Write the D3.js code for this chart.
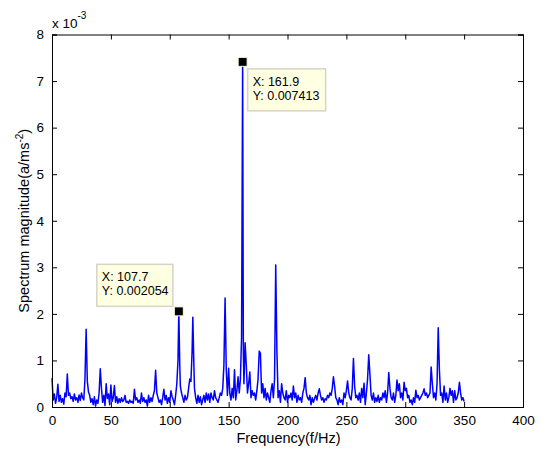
<!DOCTYPE html>
<html><head><meta charset="utf-8">
<script src="https://cdn.jsdelivr.net/npm/d3@7"></script>
<style>body{margin:0;background:#fff}svg{display:block}text{font-family:Arial,"Liberation Sans",sans-serif}</style>
</head><body><svg id="c" width="550" height="455"></svg>
<script>
// spectrum as [frequency Hz, magnitude x1e-3]
const spectrum = [
[0,0.62],[1,0.15],[2,0.28],[3,0.08],[4,0.2],[5,0.49],[6,0.12],[7,0.25],[8,0.1],[9,0.18],
[10,0.06],[11,0.3],[12,0.22],[13,0.71],[14,0.25],[15,0.3],[16,0.18],[17,0.22],[18,0.12],[19,0.28],
[20,0.15],[21,0.2],[22,0.1],[23,0.26],[24,0.14],[25,0.3],[26,0.2],[27,0.15],[28,0.6],[29,1.67],
[30,0.55],[31,0.32],[32,0.25],[33,0.1],[34,0.18],[35,0.05],[36,0.22],[37,0.02],[38,0.15],[39,0.08],
[40,0.3],[41,0.82],[42,0.4],[43,0.1],[44,0.25],[45,0.03],[46,0.5],[47,0.18],[48,0.28],[49,0.05],
[50,0.47],[51,0.12],[52,0.2],[53,0.46],[54,0.1],[55,0.22],[56,0.08],[57,0.18],[58,0.1],[59,0.2],
[60,0.12],[61,0.15],[62,0.25],[63,0.1],[64,0.12],[65,0.08],[66,0.15],[67,0.1],[68,0.12],[69,0.08],
[70,0.38],[71,0.15],[72,0.2],[73,0.1],[74,0.15],[75,0.08],[76,0.3],[77,0.12],[78,0.2],[79,0.1],
[80,0.15],[81,0.02],[82,0.25],[83,0.1],[84,0.2],[85,0.12],[86,0.25],[87,0.35],[88,0.79],[89,0.3],
[90,0.2],[91,0.1],[92,0.15],[93,0.05],[94,0.2],[95,0.38],[96,0.15],[97,0.25],[98,0.08],[99,0.2],
[100,0.1],[101,0.35],[102,0.22],[103,0.15],[104,0.05],[105,0.25],[106,0.5],[107,1.0],[107.7,2.054],[108.5,0.9],
[109,0.45],[110,0.3],[111,0.2],[112,0.1],[113,0.25],[114,0.15],[115,0.2],[116,0.4],[117,0.6],[118,0.55],
[119,1.2],[119.6,1.93],[120.5,0.9],[121,0.4],[122,0.2],[123,0.08],[124,0.25],[125,0.1],[126,0.22],[127,0.05],
[128,0.15],[129,0.25],[130,0.1],[131,0.3],[132,0.15],[133,0.28],[134,0.1],[135,0.3],[136,0.2],[137,0.15],
[138,0.35],[139,0.2],[140,0.15],[141,0.1],[142,0.2],[143,0.3],[144,0.25],[145,0.4],[146,0.9],[147,2.34],
[148,0.8],[149,0.25],[150,0.83],[151,0.3],[152,0.15],[153,0.4],[154,0.2],[155,0.8],[156,0.15],[157,0.35],
[158,0.65],[159,0.3],[160,0.6],[161,1.5],[161.9,7.413],[162.5,1.2],[163,0.5],[164,1.38],[165,0.9],[166,0.3],
[167,0.5],[168,0.75],[169,0.2],[170,0.35],[171,0.25],[172,0.3],[173,0.15],[174,0.35],[175,0.6],[176,1.2],
[177,1.15],[178,0.3],[179,0.5],[180,0.2],[181,0.4],[182,0.15],[183,0.3],[184,0.2],[185,0.1],[186,0.35],
[187,0.5],[188,0.2],[189,0.6],[190,3.05],[191,1.2],[192,0.2],[193,0.35],[194,0.1],[195,0.5],[196,0.3],
[197,0.2],[198,0.15],[199,0.35],[200,0.1],[201,0.25],[202,0.2],[203,0.3],[204,0.15],[205,0.45],[206,0.2],
[207,0.3],[208,0.1],[209,0.25],[210,0.15],[211,0.2],[212,0.1],[213,0.3],[214,0.4],[215,0.63],[216,0.3],
[217,0.2],[218,0.15],[219,0.25],[220,0.05],[221,0.2],[222,0.1],[223,0.18],[224,0.25],[225,0.15],[226,0.3],
[227,0.39],[228,0.25],[229,0.15],[230,0.2],[231,0.1],[232,0.18],[233,0.15],[234,0.25],[235,0.2],[236,0.3],
[237,0.25],[238,0.4],[239,0.65],[240,0.45],[241,0.2],[242,0.15],[243,0.05],[244,0.2],[245,0.1],[246,0.15],
[247,0.05],[248,0.3],[249,0.2],[250,0.35],[251,0.56],[252,0.3],[253,0.2],[254,0.15],[255,0.4],[256,1.04],
[257,0.45],[258,0.2],[259,0.25],[260,0.15],[261,0.3],[262,0.1],[263,0.4],[264,0.2],[265,0.51],[266,0.05],
[267,0.3],[268,0.6],[269,1.12],[270,0.7],[271,0.25],[272,0.15],[273,0.3],[274,0.1],[275,0.2],[276,0.12],
[277,0.25],[278,0.1],[279,0.2],[280,0.15],[281,0.3],[282,0.2],[283,0.35],[284,0.1],[285,0.3],[286,0.74],
[287,0.4],[288,0.2],[289,0.15],[290,0.3],[291,0.1],[292,0.25],[293,0.58],[294,0.35],[295,0.5],[296,0.2],
[297,0.3],[298,0.15],[299,0.53],[300,0.35],[301,0.4],[302,0.2],[303,0.25],[304,0.1],[305,0.15],[306,0.05],
[307,0.2],[308,0.1],[309,0.36],[310,0.2],[311,0.25],[312,0.15],[313,0.2],[314,0.25],[315,0.3],[316,0.39],
[317,0.25],[318,0.3],[319,0.2],[320,0.25],[321,0.3],[322,0.86],[323,0.5],[324,0.2],[325,0.3],[326,0.15],
[327,0.5],[328,1.70],[329,0.8],[330,0.25],[331,0.3],[332,0.1],[333,0.45],[334,0.15],[335,0.3],[336,0.1],
[337,0.2],[338,0.4],[339,0.25],[340,0.35],[341,0.1],[342,0.35],[343,0.15],[344,0.2],[345,0.3],[346,0.53],
[347,0.3],[348,0.15],[349,0.2],[350,0.12]
];
const xTicks = [0,50,100,150,200,250,300,350,400];
const yTicks = [0,1,2,3,4,5,6,7,8];
const tips = [
  {f:161.9, v:7.413, lx:"X: 161.9", ly:"Y: 0.007413"},
  {f:107.7, v:2.054, lx:"X: 107.7", ly:"Y: 0.002054"}
];
const xLabel = "Frequency(f/Hz)";
const yLabel = "Spectrum magnitude(a/ms";

const svg = d3.select("#c");
const L=52, R=523, T=34.5, B=407;
const x = d3.scaleLinear().domain([0,400]).range([L,R]);
const y = d3.scaleLinear().domain([0,8]).range([B,T]);

// line
const line = d3.line().x(d=>x(d[0])).y(d=>y(d[1]));
svg.append("path").datum(spectrum).attr("d",line)
  .attr("fill","none").attr("stroke","#0000ff").attr("stroke-width",1.5).attr("stroke-linejoin","round");

// axes
const fs = 13.5;
const gB = svg.append("g").attr("transform",`translate(0,${B})`)
  .call(d3.axisBottom(x).tickValues(xTicks).tickSize(-5).tickPadding(8).tickFormat(d3.format("d")));
const gT = svg.append("g").attr("transform",`translate(0,${T})`)
  .call(d3.axisTop(x).tickValues(xTicks).tickSize(-5).tickFormat(""));
const gL = svg.append("g").attr("transform",`translate(${L},0)`)
  .call(d3.axisLeft(y).tickValues(yTicks).tickSize(-5).tickPadding(8).tickFormat(d3.format("d")));
const gR = svg.append("g").attr("transform",`translate(${R},0)`)
  .call(d3.axisRight(y).tickValues(yTicks).tickSize(-5).tickFormat(""));
[gB,gT,gL,gR].forEach(g=>{
  g.select(".domain").attr("stroke","#000").attr("stroke-width",1);
  g.selectAll(".tick line").attr("stroke","#000");
  g.selectAll("text").attr("font-size",fs).attr("fill","#000").attr("font-family","Arial, 'Liberation Sans', sans-serif");
});
gL.selectAll("text").attr("dx",0);

// exponent
const ex = svg.append("text").attr("x",L).attr("y",28).attr("font-size",fs);
ex.append("tspan").text("x 10");
ex.append("tspan").attr("dy",-9).attr("font-size",10).text("-3");

// axis labels
svg.append("text").attr("x",(L+R)/2+1).attr("y",443).attr("text-anchor","middle")
  .attr("font-size",14.5).text(xLabel);
const yl = svg.append("text").attr("transform",`translate(29,${(T+B)/2}) rotate(-90)`)
  .attr("text-anchor","middle").attr("font-size",14.5);
yl.append("tspan").text(yLabel);
yl.append("tspan").attr("dy",-6).attr("font-size",10).text("-2");
yl.append("tspan").attr("dy",6).text(")");

// data tips
tips.forEach(t=>{
  const cx=x(t.f), cy=y(t.v);
  svg.append("rect").attr("x",cx-4.5).attr("y",cy-4.5).attr("width",9).attr("height",9)
    .attr("fill","#000").attr("stroke","#ffffe1").attr("stroke-width",1);
});
// tip boxes: first to the right-below of marker, second to the upper-left
const b1 = {x:x(tips[0].f)+5, y:y(tips[0].v)+7, w:78, h:42};
const b2 = {x:x(tips[1].f)-82, y:y(tips[1].v)-47, w:76, h:42};
[[b1,tips[0]],[b2,tips[1]]].forEach(([b,t])=>{
  svg.append("rect").attr("x",b.x).attr("y",b.y).attr("width",b.w).attr("height",b.h)
    .attr("fill","#ffffe1").attr("stroke","#d4d4c8").attr("stroke-width",1.5);
  svg.append("text").attr("x",b.x+5).attr("y",b.y+17).attr("font-size",12.5).text(t.lx);
  svg.append("text").attr("x",b.x+5).attr("y",b.y+31).attr("font-size",12.5).text(t.ly);
});
</script></body></html>
